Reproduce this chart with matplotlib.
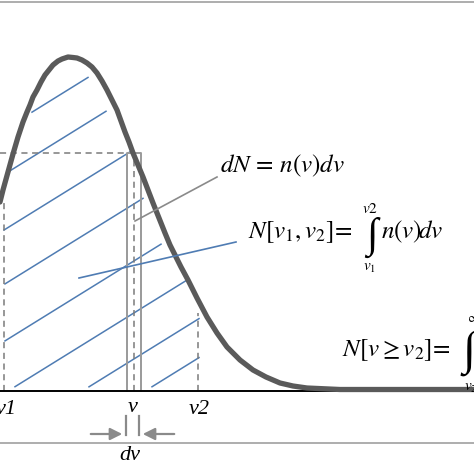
import matplotlib
matplotlib.use("Agg")
import matplotlib.pyplot as plt
import numpy as np

plt.rcParams['mathtext.fontset'] = 'stix'
plt.rcParams['font.family'] = ['Liberation Serif', 'DejaVu Serif']

# curve n(v) (x = speed, y = height above the axis, in pixels)
curve_px = [0, 3, 8, 13, 18, 23, 27, 30, 33, 37, 41, 45, 49, 53, 58, 62, 68, 73, 77,
            82, 87, 92, 97, 102, 107, 112, 117, 121, 125, 129, 133, 138, 143, 148,
            153, 159, 165, 170, 175, 181, 188, 197, 207, 217, 227, 240, 253, 266,
            280, 293, 307, 340, 400, 474]
curve_py = [202, 190, 172, 154, 137, 122, 112, 105, 97, 90, 82, 75, 70, 65, 61, 59,
            57, 57.5, 58, 60, 63, 67, 73, 81, 90, 100, 110, 121, 132, 142, 153, 165,
            177, 190, 203, 218, 233, 245, 255, 267, 280, 298, 317, 333, 347, 360,
            370, 377, 383, 386, 388, 389.5, 389.5, 389.5]
curve_x = curve_px
curve_y = [391 - p for p in curve_py]

v1, v, v2 = 4, 134, 198
dv_left, dv_right = 127, 141
n_at_v = 238          # height of the dN strip
n_at_v1 = 188
n_at_v2 = 78

# hatch lines: height = b + slope*x, start / end speed
hatch_slope = 0.62
hatch_b = [259, 214, 158.5, 104, 47, -5, -51, -90]
hatch_x0 = [32, 7, 4, 5, 5, 15, 89, 152]
hatch_x1 = [88, 106, 131, 143, 161, 186, 199, 199]

fig = plt.figure(figsize=(4.74, 4.74), dpi=100)
ax = fig.add_axes([0, 0, 1, 1])
ax.set_xlim(0, 474)
ax.set_ylim(391 - 474, 391)
ax.axis('off')

grey = '#8a8a8a'
blue = '#4f7cb3'

# frame lines
ax.plot([0, 474], [389, 389], color='#a0a0a0', lw=1.2)
ax.plot([0, 474], [-52, -52], color='#a0a0a0', lw=1.2)

# hatching
for b, x0, x1 in zip(hatch_b, hatch_x0, hatch_x1):
    xs = np.array([x0, x1])
    ax.plot(xs, b + hatch_slope * xs, color=blue, lw=1.1)

# dashed guides
dash = dict(color='#7a7a7a', lw=1.1, ls=(0, (4, 3)))
ax.plot([0, dv_left], [n_at_v, n_at_v], **dash)
ax.plot([v1, v1], [0, n_at_v1], **dash)
ax.plot([v, v], [0, n_at_v], **dash)
ax.plot([v2, v2], [0, n_at_v2], **dash)

# dv strip
ax.plot([dv_left, dv_left, dv_right, dv_right], [0, n_at_v, n_at_v, 0],
        color='#9a9a9a', lw=1.4)

# axis
ax.plot([0, 474], [0, 0], color='black', lw=1.4)

# curve
ax.plot(curve_x, curve_y, color='#5a5a5a', lw=3.8, solid_capstyle='round',
        solid_joinstyle='round')

# pointer lines
ax.plot([135, 217], [391 - 221, 391 - 177], color=grey, lw=1.2)
ax.plot([79, 236], [391 - 278, 391 - 242], color=blue, lw=1.2)

# formulas
fs = 18
ax.text(220, 391 - 166, r'$dN\,=\,n\left(v\right)dv$', fontsize=fs, ha='left', va='center')
ax.text(248, 391 - 232, r'$N\left[v_1, v_2\right]\!=$', fontsize=fs, ha='left', va='center')
ax.text(372, 391 - 237, '\u222b', fontsize=30, ha='center', va='center')
ax.text(381, 391 - 232, r'$n\left(v\right)\!dv$', fontsize=fs, ha='left', va='center')
ax.text(370, 391 - 209, r'$v2$', fontsize=11, ha='center', va='center')
ax.text(369, 391 - 268, r'$v_1$', fontsize=11, ha='center', va='center')

ax.text(342, 391 - 350, r'$N\left[v\geq v_2\right]\!=$', fontsize=fs, ha='left', va='center')
ax.text(469, 391 - 353, '\u222b', fontsize=34, ha='center', va='center')
ax.text(474, 391 - 318, r'$\infty$', fontsize=10, ha='center', va='center')
ax.text(471, 391 - 388, r'$v_2$', fontsize=11, ha='center', va='center')

# speed labels
lab = dict(fontsize=16, style='italic', va='center')
ax.text(-4, 391 - 409, 'v1', ha='left', **lab)
ax.text(133, 391 - 407, 'v', ha='center', **lab)
ax.text(199, 391 - 410, 'v2', ha='center', **lab)
ax.text(130, 391 - 455, 'dv', ha='center', **lab)

# dv arrows
ax.plot([dv_left - 1, dv_left - 1], [391 - 416, 391 - 435], color=grey, lw=1.6)
ax.plot([dv_right - 2, dv_right - 2], [391 - 416, 391 - 435], color=grey, lw=1.6)
ax.annotate('', xy=(dv_left - 2, 391 - 434), xytext=(88, 391 - 434),
            arrowprops=dict(arrowstyle='-|>', color=grey, lw=1.6, mutation_scale=18))
ax.annotate('', xy=(dv_right - 1, 391 - 434), xytext=(177, 391 - 434),
            arrowprops=dict(arrowstyle='-|>', color=grey, lw=1.6, mutation_scale=18))

fig.savefig('out.png', dpi=100)
